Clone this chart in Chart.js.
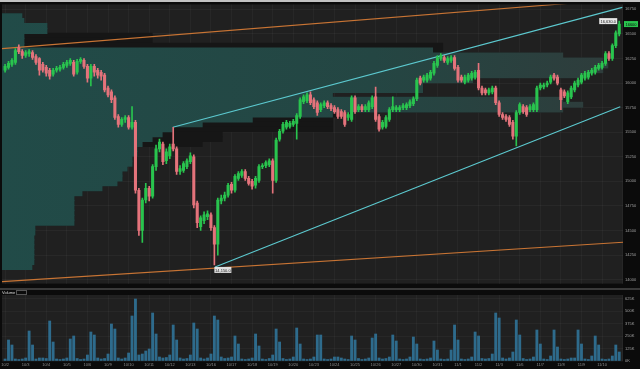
<!DOCTYPE html>
<html>
<head>
<meta charset="utf-8">
<title>4h candles</title>
<script src="https://cdn.jsdelivr.net/npm/chart.js@4"></script>
<style>
  html,body{margin:0;padding:0;background:#0b0b0b;}
  body{width:640px;height:369px;overflow:hidden;position:relative;}
  #priceBox{position:absolute;left:0;top:0;width:640px;height:288px;}
  #volBox{position:absolute;left:0;top:288px;width:640px;height:81px;}
</style>
</head>
<body>
<div id="priceBox"><canvas id="price"></canvas></div>
<div id="volBox"><canvas id="volume"></canvas></div>

<script>
// =====================
// DATA
// =====================

const open = [16130,16160,16190,16210,16360,16320,16280,16300,16310,16270,16250,16190,16160,16130,16090,16130,16140,16160,16180,16200,
  16210,16110,16220,16230,16170,16050,16170,16130,16110,16080,15950,15910,15850,15660,15580,15630,15650,15550,15600,14910,
  14500,14810,14930,14850,15150,15330,15380,15210,15260,15380,15330,15100,15110,15150,15200,15250,14780,14540,14600,14640,
  14660,14530,14360,14800,14830,14860,14970,14910,15030,15060,15100,15030,15000,14960,15010,15150,15160,15170,15210,15010,
  15430,15510,15550,15560,15580,15590,15660,15810,15820,15880,15830,15800,15730,15770,15800,15770,15750,15730,15710,15700,
  15650,15630,15850,15730,15760,15730,15730,15760,15860,15660,15550,15560,15630,15730,15730,15730,15750,15750,15770,15790,
  15840,16050,16030,16030,16050,16100,16180,16250,16260,16210,16230,16260,16160,16060,16010,16030,16050,16060,16130,15950,
  15930,15900,15910,15950,15800,15680,15660,15650,15600,15460,15700,15760,15750,15730,15730,15730,15950,15960,15980,16010,
  16080,16060,15930,15910,15810,15860,15930,15980,16010,16050,16060,16100,16110,16150,16160,16200,16300,16250,16380,16500];

const high = [16190,16220,16250,16350,16390,16340,16330,16340,16330,16290,16260,16210,16180,16150,16150,16170,16180,16210,16230,16250,
  16230,16240,16260,16250,16190,16190,16190,16150,16130,16100,15970,15930,15870,15680,15650,15670,15670,15760,15620,14930,
  14830,14980,14950,15170,15370,15430,15400,15330,15380,15550,15350,15160,15200,15230,15290,15270,14800,14650,14690,14700,
  14680,14550,14830,14860,14890,14980,14990,15070,15100,15120,15120,15050,15020,15050,15170,15180,15210,15230,15230,15440,
  15530,15600,15620,15610,15630,15690,15850,15880,15900,15910,15850,15820,15800,15820,15820,15790,15770,15750,15730,15720,
  15700,15870,15870,15780,15780,15780,15820,15870,15960,15680,15620,15670,15750,15860,15770,15770,15790,15800,15830,15860,
  16050,16070,16080,16100,16130,16220,16280,16300,16280,16270,16280,16280,16180,16080,16080,16100,16120,16130,16200,15970,
  15950,15950,15970,15970,15820,15700,15680,15670,15620,15720,15800,15780,15770,15780,15800,15970,16000,16000,16020,16080,
  16100,16080,15950,15930,15920,15970,16020,16050,16100,16120,16130,16150,16180,16200,16220,16320,16320,16400,16530,16630];

const low = [16110,16140,16170,16190,16300,16250,16260,16270,16240,16190,16080,16110,16070,16040,16070,16110,16120,16140,16160,16180,
  16070,16090,16200,16150,16010,15970,16070,16050,16030,15910,15860,15800,15630,15550,15560,15600,15530,15530,14880,14450,
  14380,14780,14800,14830,15110,15300,15170,15180,15230,15310,15070,15070,15090,15130,15180,14730,14530,14500,14570,14610,
  14500,14150,14250,14770,14800,14840,14880,14890,15010,15040,15010,14960,14920,14930,14990,15130,15140,15150,14880,14990,
  15410,15490,15530,15540,15560,15430,15640,15790,15800,15780,15740,15670,15710,15750,15740,15720,15690,15640,15640,15560,
  15620,15610,15690,15710,15710,15710,15710,15740,15610,15510,15530,15540,15610,15710,15710,15710,15730,15730,15750,15770,
  15820,15980,16010,16010,16030,16080,16160,16230,16210,16190,16210,16130,16010,16010,15990,16010,16030,16040,15930,15880,
  15880,15880,15890,15780,15660,15630,15610,15560,15430,15360,15680,15690,15660,15710,15710,15710,15930,15940,15960,15990,
  16030,15980,15730,15850,15790,15840,15910,15960,15990,16030,16040,16080,16090,16130,16140,16180,16230,16230,16360,16480];

const close = [16170,16200,16230,16330,16320,16280,16310,16320,16260,16210,16130,16130,16100,16070,16130,16150,16160,16190,16210,16230,
  16090,16220,16240,16170,16050,16170,16110,16080,16070,15930,15880,15830,15650,15580,15630,15650,15550,15600,14910,14500,
  14810,14930,14850,15150,15330,15400,15200,15300,15350,15330,15100,15130,15180,15210,15260,14760,14580,14630,14660,14670,
  14530,14360,14810,14830,14860,14960,14910,15050,15080,15100,15030,14980,14950,15030,15150,15160,15190,15210,15010,15420,
  15510,15580,15600,15590,15610,15670,15830,15860,15880,15800,15760,15700,15780,15800,15760,15740,15710,15660,15660,15580,
  15680,15850,15710,15760,15730,15760,15800,15850,15630,15530,15600,15650,15730,15760,15750,15750,15770,15780,15810,15840,
  16030,16000,16060,16080,16110,16200,16260,16280,16230,16250,16260,16150,16030,16030,16060,16080,16100,16110,15950,15900,
  15900,15930,15950,15800,15680,15650,15630,15580,15460,15700,15780,15710,15680,15760,15780,15950,15980,15980,16000,16060,
  16050,16000,15830,15870,15900,15950,16000,16030,16080,16100,16110,16130,16160,16180,16200,16300,16250,16380,16510,16600];

// volume per bar, in thousands
const volume = [20,210,160,20,15,20, 30,300,160,20,30,30, 25,400,190,20,15,20, 30,220,250,25,15,20,
  60,290,260,30,20,25, 70,370,320,30,20,30, 80,450,620,60,70,100, 120,480,270,40,30,35,
  60,360,210,30,20,25, 60,380,320,30,20,30, 70,450,410,40,25,30, 40,250,170,20,15,20,
  30,270,150,20,15,25, 60,320,190,25,15,20, 40,330,170,20,15,20, 40,260,260,20,15,20,
  40,40,30,20,15,250, 210,25,15,20,30,230, 270,30,20,25,40,260, 200,20,15,20,40,240,
  170,20,15,20,30,200, 110,20,15,20,110,360, 210,20,15,20,40,290, 250,25,20,25,70,480,
  430,30,20,30,90,410, 260,25,15,20,40,310, 170,20,15,50,310,140, 20,15,20,30,30,310,
  170,20,15,50,250,160, 20,15,20,50,160,90];

// volume profile: price bins, value area part and full row
const profilePrice = [16680,16630,16580,16530,16480,16430,16380,16330,16280,16230,16180,16130,16080,16030,15980,15930,15880,
  15830,15780,15730,15680,15630,15580,15530,15480,15430,15380,15330,15280,15230,15180,15130,15080,15030,14980,14930,14880,
  14830,14780,14730,14680,14630,14580,14530,14480,14430,14380,14330,14280,14230,14180,14130];
const profileValue = [20,22,45,45,22,22,22,430,560,600,605,600,580,470,420,420,330,
  560,580,560,330,250,200,170,160,150,140,135,135,130,130,125,120,120,115,100,80,
  72,72,72,72,72,72,33,33,32,32,32,32,32,32,30];
const profileRow = [20,22,45,45,150,150,440,440,560,600,605,600,580,470,420,420,330,
  560,580,560,340,330,330,330,220,220,200,135,135,130,130,125,120,120,115,100,80,
  72,72,72,72,72,72,33,33,32,32,32,32,32,32,30];

// drawn trend lines, as (bar index, price)
const resistance = [{x:-0.9, y:16350}, {x:180.1, y:16855}];
const support = [{x:-0.9, y:13980}, {x:180.1, y:14380}];
const channelTop = [{x:48.9, y:15550}, {x:179.9, y:16770}];
const channelBottom = [{x:61.2, y:14130}, {x:179.3, y:15760}];

// one label per trading day, every 6 bars
const dayLabels = ["10/2","10/3","10/4","10/5","10/6","10/9","10/10","10/11","10/12","10/13",
  "10/16","10/17","10/18","10/19","10/20","10/23","10/24","10/25","10/26","10/27",
  "10/30","10/31","11/1","11/2","11/3","11/6","11/7","11/8","11/9","11/10"];


// =====================
// STYLE
// =====================

const upColor = '#29c44e';
const downColor = '#e4737b';
const gridColor = 'rgba(255,255,255,0.035)';

Chart.defaults.font.family = '"Liberation Sans", "DejaVu Sans", sans-serif';
Chart.defaults.font.size = 5;
Chart.defaults.color = '#9a9a9a';

const bars = open.map((_, i) => i);
const candleColor = bars.map(i => close[i] >= open[i] ? upColor : downColor);

function fmt(v){
  return v.toLocaleString('en-US', {minimumFractionDigits:1, maximumFractionDigits:1});
}

function tag(ctx, x, y, w, h, bg, fg, text){
  ctx.fillStyle = bg;
  ctx.fillRect(x, y, w, h);
  ctx.fillStyle = fg;
  ctx.fillText(text, x + w / 2, y + h / 2 + 0.5);
}

// profile fades from teal to grey towards the right
function profileFill(c){
  const a = c.chart.chartArea;
  if(!a) return '#224a47';
  const g = c.chart.ctx.createLinearGradient(a.left, 0, a.right, 0);
  g.addColorStop(0, '#214b48');
  g.addColorStop(0.6, '#244643');
  g.addColorStop(1, '#2f3c3b');
  return g;
}


// =====================
// PLUGINS
// =====================

const panelBg = {
  id:'panelBg',
  beforeDraw(chart){
    const {ctx, chartArea:a, width, height} = chart;
    ctx.save();
    ctx.fillStyle = '#0b0b0b';
    ctx.fillRect(0, 0, width, height);
    ctx.fillStyle = '#202020';
    ctx.fillRect(a.left, a.top, a.right - a.left, a.bottom - a.top);
    ctx.restore();
  }
};

const priceMarks = {
  id:'priceMarks',
  afterDraw(chart){
    const {ctx, chartArea:a, scales:{x, y}} = chart;
    ctx.save();
    ctx.fillStyle = '#c2c2c2';
    ctx.fillRect(0, 0, chart.width, 2);

    ctx.font = '4px "Liberation Sans"';
    ctx.textAlign = 'center';
    ctx.textBaseline = 'middle';

    let last = close.length - 1;
    let ly = y.getPixelForValue(close[last]);
    tag(ctx, a.right + 1, ly - 3, 14, 6, upColor, '#0b0b0b', close[last].toFixed(0));

    let hi = high.indexOf(Math.max(...high));
    let hx = x.getPixelForValue(hi), hy = y.getPixelForValue(high[hi]);
    tag(ctx, hx - 20, hy - 3, 18, 6, '#e6e6e6', '#222', fmt(high[hi]));

    let lo = low.indexOf(Math.min(...low));
    let lx = x.getPixelForValue(lo), lyy = y.getPixelForValue(low[lo]);
    tag(ctx, lx, lyy + 2, 17, 6, '#e0e0e0', '#222', fmt(low[lo]));
    ctx.restore();
  }
};

const volumeHeader = {
  id:'volumeHeader',
  beforeDraw(chart){
    const ctx = chart.ctx;
    ctx.save();
    ctx.fillStyle = '#3a3a3a';
    ctx.fillRect(0, 0, chart.width, 2);
    ctx.font = '4px "Liberation Sans"';
    ctx.textBaseline = 'middle';
    ctx.fillStyle = '#d8d8d8';
    ctx.fillText('Volume', 2, 4.5);
    ctx.strokeStyle = '#555';
    ctx.lineWidth = 1;
    ctx.strokeRect(16.5, 2.5, 10, 4);
    ctx.restore();
  }
};


// =====================
// PRICE CHART
// =====================

function lineSet(data, color){
  return {
    type:'line', data, borderColor:color, borderWidth:1.1,
    pointRadius:0, xAxisID:'x', yAxisID:'y', order:3
  };
}

new Chart(document.getElementById('price'), {
  type:'bar',
  data:{
    datasets:[
      {
        indexAxis:'y', xAxisID:'xp', yAxisID:'y', order:7, grouped:false, barThickness:5.4,
        data:profilePrice.map((p, k) => ({x:profileRow[k], y:p})),
        backgroundColor:'#161616'
      },
      {
        indexAxis:'y', xAxisID:'xp', yAxisID:'y', order:6, grouped:false, barThickness:5.4,
        data:profilePrice.map((p, k) => ({x:profileValue[k], y:p})),
        backgroundColor:profileFill
      },
      lineSet(resistance, '#c87434'),
      lineSet(support, '#c87434'),
      lineSet(channelTop, '#5cc9cf'),
      lineSet(channelBottom, '#5cc9cf'),
      {
        xAxisID:'x', yAxisID:'y', order:2, grouped:false, barThickness:1,
        data:bars.map(i => ({x:i, y:[low[i], high[i]]})),
        backgroundColor:candleColor
      },
      {
        xAxisID:'x', yAxisID:'y', order:1, grouped:false, barThickness:2.4, minBarLength:1,
        data:bars.map(i => ({x:i, y:[open[i], close[i]]})),
        backgroundColor:candleColor
      }
    ]
  },
  options:{
    responsive:true,
    maintainAspectRatio:false,
    animation:false,
    devicePixelRatio:1,
    layout:{padding:{left:2, top:3, right:0, bottom:1}},
    plugins:{legend:{display:false}, tooltip:{enabled:false}},
    scales:{
      x:{
        type:'linear', min:-0.9, max:180.1, offset:false,
        ticks:{display:false, stepSize:6, includeBounds:false},
        grid:{color:gridColor, drawTicks:false, offset:false},
        border:{display:false},
        afterFit:s => { s.height = 0; }
      },
      xp:{
        type:'linear', axis:'x', min:0, max:620, offset:false, display:false, stacked:false
      },
      y:{
        type:'linear', position:'right', min:13960, max:16800, offset:false,
        ticks:{stepSize:250, includeBounds:false, padding:2, font:{size:4}, color:'#a0a0a0',
          callback:v => String(v)},
        grid:{color:'rgba(255,255,255,0.04)', drawTicks:false, offset:false},
        border:{display:false},
        afterFit:s => { s.width = 17; }
      }
    }
  },
  plugins:[panelBg, priceMarks]
});


// =====================
// VOLUME CHART
// =====================

new Chart(document.getElementById('volume'), {
  type:'bar',
  data:{
    datasets:[{
      data:bars.map(i => ({x:i, y:volume[i]})),
      backgroundColor:'#2e6b8c',
      barThickness:2.2,
      grouped:false
    }]
  },
  options:{
    responsive:true,
    maintainAspectRatio:false,
    animation:false,
    devicePixelRatio:1,
    layout:{padding:{left:2, top:7, right:0, bottom:0}},
    plugins:{legend:{display:false}, tooltip:{enabled:false}},
    scales:{
      x:{
        type:'linear', min:-0.9, max:180.1, offset:false,
        ticks:{stepSize:6, includeBounds:false, autoSkip:false, maxRotation:0, padding:1,
          font:{size:4}, color:'#8c8c8c',
          callback:v => dayLabels[v / 6] || ''},
        grid:{color:gridColor, drawTicks:false, offset:false},
        border:{display:false},
        afterFit:s => { s.height = 8; }
      },
      y:{
        type:'linear', position:'right', min:0, max:660,
        ticks:{stepSize:125, includeBounds:false, padding:2, font:{size:4}, color:'#a0a0a0',
          callback:v => v + 'K'},
        grid:{color:gridColor, drawTicks:false},
        border:{display:false},
        afterFit:s => { s.width = 17; }
      }
    }
  },
  plugins:[panelBg, volumeHeader]
});
</script>
</body>
</html>
